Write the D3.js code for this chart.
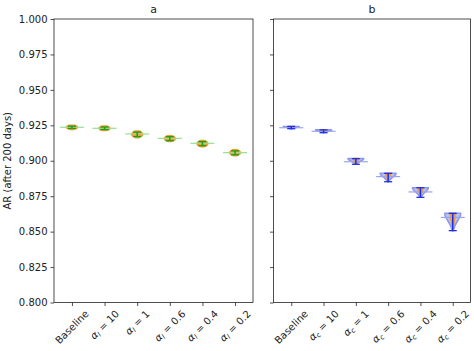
<!DOCTYPE html>
<html>
<head>
<meta charset="utf-8">
<script src="https://cdn.jsdelivr.net/npm/d3@7"></script>
<style>
  body { margin: 0; background: #fff; }
  svg { font-family: "DejaVu Sans", sans-serif; }
</style>
</head>
<body>
<svg width="474" height="351"></svg>
<script>
const svg = d3.select('svg');

// categories (x tick labels); subscripts differ per panel
const categories = ['Baseline', '10', '1', '0.6', '0.4', '0.2'];
const panelTitles = ['a', 'b'];
const subscripts = ['I', 'c'];

// panel a: centre, min, max of AR after 200 days
const aCenter = [0.9236, 0.9229, 0.9189, 0.9158, 0.9123, 0.9057];
const aMin    = [0.9228, 0.9220, 0.9170, 0.9142, 0.9106, 0.9042];
const aMax    = [0.9244, 0.9238, 0.9202, 0.9170, 0.9135, 0.9070];

// panel b
const bCenter = [0.9233, 0.9208, 0.8993, 0.8888, 0.8780, 0.8600];
const bMin    = [0.9226, 0.9198, 0.8975, 0.8852, 0.8742, 0.8507];
const bMax    = [0.9242, 0.9218, 0.9015, 0.8911, 0.8810, 0.8629];

const yTicks = [0.800, 0.825, 0.850, 0.875, 0.900, 0.925, 0.950, 0.975, 1.000];

const plotTop = 19, plotBottom = 302.5;
const panels = [
  { x0: 54, x1: 253, center: aCenter, min: aMin, max: aMax,
    line: '#1f9f1f', light: '#93e093', halo: null, labels: true,
    bodyW: 4.5, bodyStroke: 3.5 },
  { x0: 273.5, x1: 470.5, center: bCenter, min: bMin, max: bMax,
    line: '#1f2ee8', light: '#9aa4ee', halo: '#8d98e6', labels: false,
    bodyW: 2.5, bodyStroke: 1.5 }
];
const bodyColor = '#f29b30';

const yScale = d3.scaleLinear().domain([0.8, 1.0]).range([plotBottom, plotTop]);

// relative half-width of a violin along min -> max (shape style)
const profileA = [0.3, 0.7, 1.0, 1.0, 0.8, 0.5];
const profileB = [0.05, 0.2, 0.4, 0.65, 0.95, 1.0];

panels.forEach((p, pi) => {
  const xScale = d3.scalePoint().domain(categories).range([p.x0, p.x1]).padding(0.55);
  const g = svg.append('g');

  // y axis
  const yAxis = d3.axisLeft(yScale).tickValues(yTicks).tickSize(3.5).tickPadding(3)
    .tickFormat(p.labels ? d3.format('.3f') : '');
  const yG = g.append('g').attr('transform', `translate(${p.x0},0)`).call(yAxis);
  yG.select('.domain').remove();
  yG.selectAll('text').attr('font-size', 10).attr('fill', '#222').attr('font-family', 'DejaVu Sans');
  yG.selectAll('line').attr('stroke', '#222').attr('stroke-width', 0.8);

  // x axis
  const xAxis = d3.axisBottom(xScale).tickSize(3.5).tickFormat('');
  const xG = g.append('g').attr('transform', `translate(0,${plotBottom})`).call(xAxis);
  xG.select('.domain').remove();
  xG.selectAll('line').attr('stroke', '#222').attr('stroke-width', 0.8);

  // x tick labels, rotated 45deg, bounding box centred under the tick
  categories.forEach((c, i) => {
    const x = xScale(c);
    const t = g.append('text')
      .attr('text-anchor', 'middle')
      .attr('font-size', 10)
      .attr('fill', '#222');
    if (c === 'Baseline') {
      t.text(c);
    } else {
      t.append('tspan').attr('font-style', 'italic').text('α');
      t.append('tspan').attr('font-size', 7).attr('font-style', 'italic')
        .attr('dy', 2).text(subscripts[pi]);
      t.append('tspan').attr('dy', -2).text(' = ' + c);
    }
    const len = t.node().getComputedTextLength();
    const h = 10;
    const cy = plotBottom + 6 + (len + h) / (2 * Math.SQRT2);
    t.attr('transform', `translate(${x},${cy}) rotate(-45) translate(0,3.5)`);
  });

  // violins
  categories.forEach((c, i) => {
    const x = xScale(c);
    const lo = p.min[i], hi = p.max[i];
    const span = hi - lo;
    const profile = pi === 0 ? profileA : profileB;
    const area = hw => d3.area()
      .y(d => yScale(d.v))
      .x0(d => x - d.w * hw)
      .x1(d => x + d.w * hw)
      .curve(d3.curveBasis);
    const pts = profile.map((w, k) => ({ v: lo + span * k / (profile.length - 1), w }));

    if (p.halo) {
      g.append('path').datum(pts).attr('d', area(8))
        .attr('fill', p.halo).attr('fill-opacity', 0.6)
        .attr('stroke', p.halo).attr('stroke-width', 1.5).attr('stroke-linejoin', 'round');
    }
    g.append('path').datum(pts).attr('d', area(p.bodyW))
      .attr('fill', bodyColor)
      .attr('stroke', bodyColor).attr('stroke-width', p.bodyStroke).attr('stroke-linejoin', 'round');

    // faint wide line at centre
    g.append('line')
      .attr('x1', x - 12).attr('x2', x + 12)
      .attr('y1', yScale(p.center[i])).attr('y2', yScale(p.center[i]))
      .attr('stroke', p.light).attr('stroke-width', 1.2);

    // extrema bar and caps
    g.append('line')
      .attr('x1', x).attr('x2', x)
      .attr('y1', yScale(lo)).attr('y2', yScale(hi))
      .attr('stroke', p.line).attr('stroke-width', 1.5);
    [lo, hi].forEach(v => {
      g.append('line')
        .attr('x1', x - 4).attr('x2', x + 4)
        .attr('y1', yScale(v)).attr('y2', yScale(v))
        .attr('stroke', p.line).attr('stroke-width', 1.3);
    });
  });

  // frame
  g.append('rect')
    .attr('x', p.x0).attr('y', plotTop)
    .attr('width', p.x1 - p.x0).attr('height', plotBottom - plotTop)
    .attr('fill', 'none').attr('stroke', '#222').attr('stroke-width', 0.8);

  // title
  g.append('text')
    .attr('x', (p.x0 + p.x1) / 2).attr('y', 13)
    .attr('text-anchor', 'middle')
    .attr('font-size', 11).attr('fill', '#222')
    .text(panelTitles[pi]);
});

// y axis label
svg.append('text')
  .attr('transform', `translate(11,${(plotTop + plotBottom) / 2}) rotate(-90)`)
  .attr('text-anchor', 'middle')
  .attr('font-size', 10).attr('fill', '#222')
  .text('AR (after 200 days)');
</script>
</body>
</html>
